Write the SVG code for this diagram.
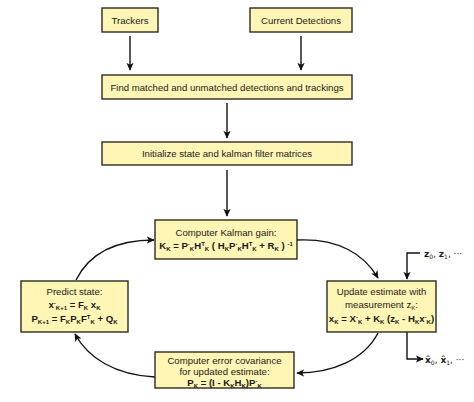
<svg xmlns="http://www.w3.org/2000/svg" width="474" height="402" viewBox="0 0 474 402">
<style>
.box{fill:#fff5b4;stroke:#2b2b20;stroke-width:1.4}
.t{font-family:"Liberation Sans",Arial,sans-serif;font-size:9.6px;fill:#1a1a1a;text-anchor:middle}
.b{font-weight:bold}
.s{font-size:6px}
.ln{fill:none;stroke:#111;stroke-width:1.4}
.lb{font-family:"DejaVu Sans",sans-serif;font-size:9px;fill:#1a1a1a}
</style>
<defs>
<marker id="ah" viewBox="0 0 10 10" refX="9" refY="5" markerWidth="8" markerHeight="8" markerUnits="userSpaceOnUse" orient="auto">
<path d="M0,0.5 L10,5 L0,9.5 L2.5,5 z" fill="#111"/>
</marker>
</defs>
<rect width="474" height="402" fill="#fff"/>
<g id="connectors">
<path class="ln" marker-end="url(#ah)" d="M130,36 V70"/>
<path class="ln" marker-end="url(#ah)" d="M301,36 V70"/>
<path class="ln" marker-end="url(#ah)" d="M227,103 V138"/>
<path class="ln" marker-end="url(#ah)" d="M227,170 V216"/>
<path class="ln" marker-end="url(#ah)" d="M297,240 C338,238 364,254 378,278"/>
<path class="ln" marker-end="url(#ah)" d="M378,333 C364,360 332,373 297,373"/>
<path class="ln" marker-end="url(#ah)" d="M155,377 C115,375 88,358 75,334"/>
<path class="ln" marker-end="url(#ah)" d="M76,280 C90,252 118,240 154,240"/>
<path class="ln" marker-end="url(#ah)" d="M420,253 H407 V279"/>
<path class="ln" marker-end="url(#ah)" d="M407,332 V359 H423"/>
</g>
<g id="trackers">
<rect class="box" x="102" y="8" width="56" height="24"/>
<text class="t" x="130" y="23.5">Trackers</text>
</g>
<g id="detections">
<rect class="box" x="250" y="8" width="102" height="24"/>
<text class="t" x="301" y="23.5">Current Detections</text>
</g>
<g id="find">
<rect class="box" x="102" y="75" width="250" height="24"/>
<text class="t" x="227" y="90.5">Find matched and unmatched detections and trackings</text>
</g>
<g id="init">
<rect class="box" x="102" y="142" width="250" height="23"/>
<text class="t" x="227" y="157">Initialize state and kalman filter matrices</text>
</g>
<g id="kalman">
<rect class="box" x="155" y="220" width="142" height="39"/>
<text class="t" x="226" y="236">Computer Kalman gain:</text>
<text class="t b" x="226" y="249">K<tspan class="s" dy="2">K</tspan><tspan dy="-2"> = P</tspan><tspan class="s" dy="-3">-</tspan><tspan class="s" dy="5">K</tspan><tspan dy="-2">H</tspan><tspan class="s" dy="-3">T</tspan><tspan class="s" dy="5">K</tspan><tspan dy="-2"> ( H</tspan><tspan class="s" dy="2">K</tspan><tspan dy="-2">P</tspan><tspan class="s" dy="-3">-</tspan><tspan class="s" dy="5">K</tspan><tspan dy="-2">H</tspan><tspan class="s" dy="-3">T</tspan><tspan class="s" dy="5">K</tspan><tspan dy="-2"> + R</tspan><tspan class="s" dy="2">K</tspan><tspan dy="-2"> ) </tspan><tspan class="s" dy="-3">-1</tspan></text>
</g>
<g id="predict">
<rect class="box" x="21" y="281" width="107" height="51"/>
<text class="t" x="74.5" y="295">Predict state:</text>
<text class="t b" x="74.5" y="308">x<tspan class="s" dy="-3">-</tspan><tspan class="s" dy="5">K+1</tspan><tspan dy="-2"> = F</tspan><tspan class="s" dy="2">K</tspan><tspan dy="-2"> x</tspan><tspan class="s" dy="2">K</tspan></text>
<text class="t b" x="74.5" y="322">P<tspan class="s" dy="2">K+1</tspan><tspan dy="-2"> = F</tspan><tspan class="s" dy="2">K</tspan><tspan dy="-2">P</tspan><tspan class="s" dy="2">K</tspan><tspan dy="-2">F</tspan><tspan class="s" dy="-3">T</tspan><tspan class="s" dy="5">K</tspan><tspan dy="-2"> + Q</tspan><tspan class="s" dy="2">K</tspan></text>
</g>
<g id="update">
<rect class="box" x="327" y="281" width="109" height="51"/>
<text class="t" x="381.5" y="295">Update estimate with</text>
<text class="t" x="381.5" y="308">measurement z<tspan class="s" dy="2">K</tspan><tspan dy="-2">:</tspan></text>
<text class="t b" x="381.5" y="322">x<tspan class="s" dy="2">K</tspan><tspan dy="-2"> = X</tspan><tspan class="s" dy="-3">-</tspan><tspan class="s" dy="5">K</tspan><tspan dy="-2"> + K</tspan><tspan class="s" dy="2">K</tspan><tspan dy="-2"> (z</tspan><tspan class="s" dy="2">K</tspan><tspan dy="-2"> - H</tspan><tspan class="s" dy="2">K</tspan><tspan dy="-2">x</tspan><tspan class="s" dy="-3">-</tspan><tspan class="s" dy="5">K</tspan><tspan dy="-2">)</tspan></text>
</g>
<g id="covariance">
<rect class="box" x="155" y="352" width="139" height="36"/>
<text class="t" x="224.5" y="364">Computer error covariance</text>
<text class="t" x="224.5" y="375">for updated estimate:</text>
<text class="t b" x="224.5" y="386">P<tspan class="s" dy="2">K</tspan><tspan dy="-2"> = (I - K</tspan><tspan class="s" dy="2">K</tspan><tspan dy="-2">H</tspan><tspan class="s" dy="2">K</tspan><tspan dy="-2">)P</tspan><tspan class="s" dy="-3">-</tspan><tspan class="s" dy="5">K</tspan></text>
</g>
<g id="labels">
<text class="lb" x="424" y="257"><tspan font-weight="bold">z</tspan><tspan class="s" dy="2">0</tspan><tspan dy="-2">, </tspan><tspan font-weight="bold">z</tspan><tspan class="s" dy="2">1</tspan><tspan dy="-2">, ···</tspan></text>
<text class="lb" x="425" y="363"><tspan font-weight="bold">x̂</tspan><tspan class="s" dy="2">0</tspan><tspan dy="-2">, </tspan><tspan font-weight="bold">x̂</tspan><tspan class="s" dy="2">1</tspan><tspan dy="-2">, ···</tspan></text>
</g>
</svg>
